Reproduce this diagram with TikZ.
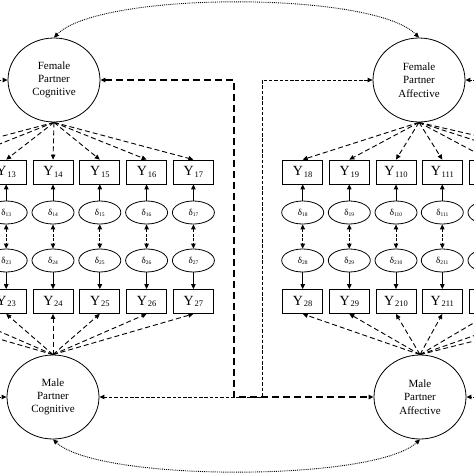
\documentclass[tikz,border=0pt]{standalone}
\usepackage{fontspec}
\setmainfont{Liberation Serif}
\usetikzlibrary{arrows.meta,shapes.geometric}
\newcommand\Ysub[1]{Y\hspace{0.8pt}\raisebox{-1.2pt}{\fontsize{8.5}{9}\selectfont #1}}
\newcommand\Dsub[1]{δ\raisebox{-1pt}{\fontsize{5.5}{6}\selectfont #1}}
\begin{document}
\begin{tikzpicture}[x=1pt,y=-1pt,
  tipA/.tip={Triangle[length=5pt,width=4.5pt]},
  latent/.style={draw, line width=0.8pt, ellipse, minimum width=92pt, minimum height=84pt, inner sep=0pt, align=center, font=\fontsize{11}{13.3}\selectfont},
  ybox/.style={draw, line width=0.8pt, minimum width=40pt, minimum height=24pt, inner sep=0pt, font=\fontsize{14}{16}\selectfont},
  errnode/.style={draw, ellipse, line width=0.8pt, minimum width=42pt, minimum height=23pt, inner sep=0pt, font=\fontsize{9}{10}\selectfont},
  loadline/.style={line width=0.9pt, dash pattern=on 5pt off 3pt, -tipA},
  solidarrow/.style={line width=0.9pt, -tipA},
  corrline/.style={line width=0.9pt, dash pattern=on 3pt off 1.5pt, tipA-tipA},
  bigdash/.style={line width=1.3pt, dash pattern=on 7pt off 4pt, tipA-tipA},
  smalldash/.style={line width=0.9pt, dash pattern=on 3.5pt off 1.8pt, tipA-tipA},
  sidearrow/.style={line width=0.9pt, dash pattern=on 3pt off 1.5pt, -tipA},
  dotcurve/.style={line width=0.9pt, densely dotted, tipA-tipA}
]
\path[use as bounding box, clip] (0,0) rectangle (474,474);

% latent variables
\node[latent] (fc) at (54,80) {Female\\Partner\\Cognitive};
\node[latent] (fa) at (419,80) {Female\\Partner\\Affective};
\node[latent] (mc) at (53,397) {Male\\Partner\\Cognitive};
\node[latent] (ma) at (420,397) {Male\\Partner\\Affective};

% indicator columns
\foreach \a/\b/\x in {13/23/6.2,14/24/53,15/25/99.8,16/26/146.6,17/27/193.4,
                      18/28/302.7,19/29/349.3,110/210/396,111/211/442.3,112/212/489}{
  \node[ybox] (y\a) at (\x,172) {\Ysub{\a}};
  \node[errnode] (d\a) at (\x,212.5) {\Dsub{\a}};
  \node[errnode] (d\b) at (\x,260.5) {\Dsub{\b}};
  \node[ybox] (y\b) at (\x,301.5) {\Ysub{\b}};
  \draw[solidarrow] (d\a) -- (y\a);
  \draw[corrline] (d\a) -- (d\b);
  \draw[solidarrow] (d\b) -- (y\b);
}

% off-picture indicator ends
\coordinate (y11) at (-87.4,160);
\coordinate (y12) at (-40.6,160);
\coordinate (y21) at (-87.4,314);
\coordinate (y22) at (-40.6,314);
\coordinate (y113) at (535.6,160);
\coordinate (y114) at (582.2,160);
\coordinate (y213) at (535.6,314);
\coordinate (y214) at (582.2,314);

% loadings
\foreach \i in {11,12}{ \draw[loadline] (fc.south) -- (y\i); }
\foreach \i in {13,14,15,16,17}{ \draw[loadline] (fc.south) -- (y\i.north); }
\foreach \i in {21,22}{ \draw[loadline] (mc.north) -- (y\i); }
\foreach \i in {23,24,25,26,27}{ \draw[loadline] (mc.north) -- (y\i.south); }
\foreach \i in {18,19,110,111,112}{ \draw[loadline] (fa.south) -- (y\i.north); }
\foreach \i in {113,114}{ \draw[loadline] (fa.south) -- (y\i); }
\foreach \i in {28,29,210,211,212}{ \draw[loadline] (ma.north) -- (y\i.south); }
\foreach \i in {213,214}{ \draw[loadline] (ma.north) -- (y\i); }

% cross paths between latents
\coordinate (tl) at (234,80);
\coordinate (bl) at (234,397);
\coordinate (tr) at (262,80);
\coordinate (br) at (262,397);
\draw[smalldash] (fa.west) -- (tr) -- (br) -- (mc.east);
\draw[bigdash] (fc.east) -- (tl) -- (bl) -- (ma.west);

% curved covariances
\draw[dotcurve] (fc.north) .. controls (100,-9) and (373,-9) .. (fa.north);
\draw[dotcurve] (mc.south) .. controls (99,482) and (374,482) .. (ma.south);

% arrows entering from outside the picture
\coordinate (e1) at (-2,80);
\coordinate (e2) at (476,80);
\coordinate (e3) at (-2,397);
\coordinate (e4) at (476,397);
\draw[sidearrow] (e1) -- (fc.west);
\draw[sidearrow] (e2) -- (fa.east);
\draw[sidearrow] (e3) -- (mc.west);
\draw[sidearrow] (e4) -- (ma.east);
\end{tikzpicture}
\end{document}
